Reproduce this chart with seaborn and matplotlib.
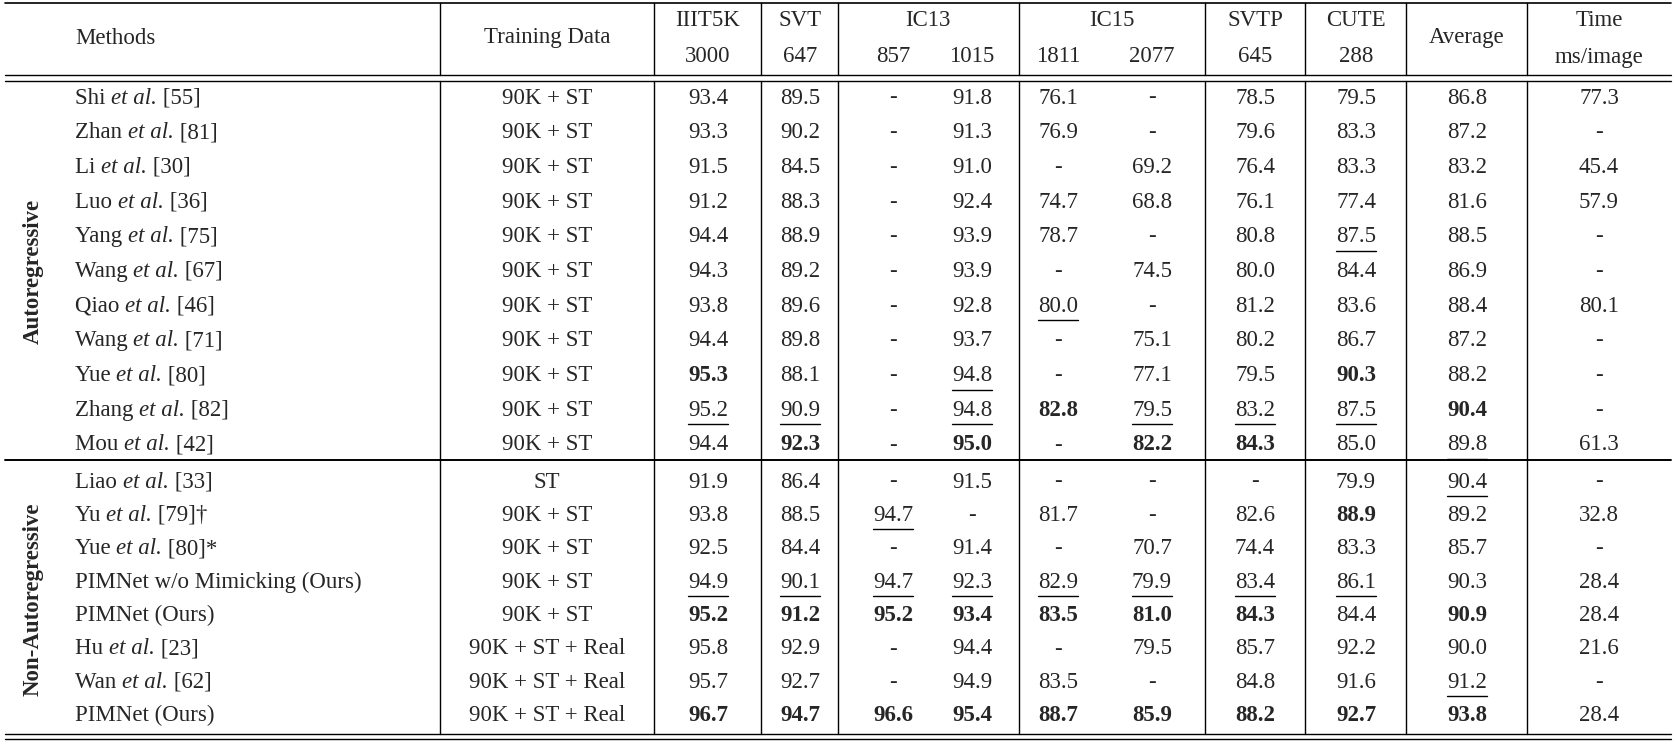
import matplotlib
matplotlib.use("Agg")
import matplotlib.pyplot as plt
import seaborn as sns

sns.set_theme(style="white")
plt.rcParams['font.family'] = ['Liberation Serif', 'DejaVu Serif']

# table content; "**" = bold, "__" = underlined
methods = ["Shi |et al.| [55]", "Zhan |et al.| [81]", "Li |et al.| [30]", "Luo |et al.| [36]",
           "Yang |et al.| [75]", "Wang |et al.| [67]", "Qiao |et al.| [46]", "Wang |et al.| [71]",
           "Yue |et al.| [80]", "Zhang |et al.| [82]", "Mou |et al.| [42]",
           "Liao |et al.| [33]", "Yu |et al.| [79]†", "Yue |et al.| [80]*",
           "PIMNet w/o Mimicking (Ours)", "PIMNet (Ours)", "Hu |et al.| [23]", "Wan |et al.| [62]",
           "PIMNet (Ours)"]
train = ["90K + ST"] * 11 + ["ST"] + ["90K + ST"] * 4 + ["90K + ST + Real"] * 3
iiit5k = ["93.4", "93.3", "91.5", "91.2", "94.4", "94.3", "93.8", "94.4", "**95.3", "__95.2", "94.4",
          "91.9", "93.8", "92.5", "__94.9", "**95.2", "95.8", "95.7", "**96.7"]
svt = ["89.5", "90.2", "84.5", "88.3", "88.9", "89.2", "89.6", "89.8", "88.1", "__90.9", "**92.3",
       "86.4", "88.5", "84.4", "__90.1", "**91.2", "92.9", "92.7", "**94.7"]
ic13_857 = ["-"] * 11 + ["-", "__94.7", "-", "__94.7", "**95.2", "-", "-", "**96.6"]
ic13_1015 = ["91.8", "91.3", "91.0", "92.4", "93.9", "93.9", "92.8", "93.7", "__94.8", "__94.8", "**95.0",
             "91.5", "-", "91.4", "__92.3", "**93.4", "94.4", "94.9", "**95.4"]
ic15_1811 = ["76.1", "76.9", "-", "74.7", "78.7", "-", "__80.0", "-", "-", "**82.8", "-",
             "-", "81.7", "-", "__82.9", "**83.5", "-", "83.5", "**88.7"]
ic15_2077 = ["-", "-", "69.2", "68.8", "-", "74.5", "-", "75.1", "77.1", "__79.5", "**82.2",
             "-", "-", "70.7", "__79.9", "**81.0", "79.5", "-", "**85.9"]
svtp = ["78.5", "79.6", "76.4", "76.1", "80.8", "80.0", "81.2", "80.2", "79.5", "__83.2", "**84.3",
        "-", "82.6", "74.4", "__83.4", "**84.3", "85.7", "84.8", "**88.2"]
cute = ["79.5", "83.3", "83.3", "77.4", "__87.5", "84.4", "83.6", "86.7", "**90.3", "__87.5", "85.0",
        "79.9", "**88.9", "83.3", "__86.1", "84.4", "92.2", "91.6", "**92.7"]
average = ["86.8", "87.2", "83.2", "81.6", "88.5", "86.9", "88.4", "87.2", "88.2", "**90.4", "__89.8",
           "__90.4", "89.2", "85.7", "90.3", "**90.9", "90.0", "__91.2", "**93.8"]
time_ms = ["77.3", "-", "45.4", "57.9", "-", "-", "80.1", "-", "-", "-", "61.3",
           "-", "32.8", "-", "28.4", "28.4", "21.6", "-", "28.4"]

value_cols = [iiit5k, svt, ic13_857, ic13_1015, ic15_1811, ic15_2077, svtp, cute, average, time_ms]
col_x = [708, 800, 893, 972, 1058, 1152, 1255, 1356, 1467, 1599]
vlines = [440, 654, 761, 838, 1019, 1205, 1305, 1406, 1527]
row_y = [98 + 34.7 * i for i in range(11)] + [482 + 33.4 * i for i in range(8)]

W, H = 1676, 745
fig = plt.figure(figsize=(W / 100, H / 100), dpi=100)
ax = fig.add_axes([0, 0, 1, 1])
ax.set_xlim(0, W)
ax.set_ylim(H, 0)
ax.axis("off")
fs = 16.5

# horizontal rules
L, R = 5, 1671
for y, lw in [(3, 1.2), (75, 1.0), (81, 1.0), (460, 1.4), (734, 1.0), (739, 1.0)]:
    ax.plot([L, R], [y, y], color="black", lw=lw)
for x in vlines:
    ax.plot([x, x], [3, 75], color="black", lw=1.0)
    ax.plot([x, x], [81, 734], color="black", lw=1.0)

# header
ax.text(75, 38, "Methods", fontsize=fs, va="center", ha="left")
ax.text(547, 38, "Training Data", fontsize=fs, va="center", ha="center")
ax.text(1467, 38, "Average", fontsize=fs, va="center", ha="center")
for x, t1, t2 in [(708, "IIIT5K", "3000"), (800, "SVT", "647"), (1255, "SVTP", "645"),
                  (1356, "CUTE", "288"), (1599, "Time", "ms/image")]:
    ax.text(x, 20, t1, fontsize=fs, va="center", ha="center")
    ax.text(x, 57, t2, fontsize=fs, va="center", ha="center")
ax.text(928, 20, "IC13", fontsize=fs, va="center", ha="center")
ax.text(1112, 20, "IC15", fontsize=fs, va="center", ha="center")
for x, t in [(893, "857"), (972, "1015"), (1058, "1811"), (1152, "2077")]:
    ax.text(x, 57, t, fontsize=fs, va="center", ha="center")

# group labels
ax.text(33, 271, "Autoregressive", fontsize=fs, fontweight="bold", rotation=90, va="center", ha="center")
ax.text(33, 599, "Non-Autoregressive", fontsize=fs, fontweight="bold", rotation=90, va="center", ha="center")

fig.canvas.draw()
rend = fig.canvas.get_renderer()
inv = ax.transData.inverted()


def width_of(t):
    bb = t.get_window_extent(rend)
    (x0, _), (x1, _) = inv.transform([[bb.x0, bb.y0], [bb.x1, bb.y1]])
    return x0, x1


for i, y in enumerate(row_y):
    # method names with italic "et al."
    x = 75
    for k, part in enumerate(methods[i].split("|")):
        if not part:
            continue
        t = ax.text(x, y, part, fontsize=fs, va="center", ha="left",
                    style="italic" if k == 1 else "normal")
        x = width_of(t)[1]
    ax.text(547, y, train[i], fontsize=fs, va="center", ha="center")
    for cx, col in zip(col_x, value_cols):
        s = col[i]
        bold = s.startswith("**")
        under = s.startswith("__")
        s = s.lstrip("*_")
        t = ax.text(cx, y, s, fontsize=fs, va="center", ha="center",
                    fontweight="bold" if bold else "normal")
        if under:
            x0, x1 = width_of(t)
            ax.plot([x0, x1], [y + 14, y + 14], color="black", lw=1.0)

fig.savefig("out.png", dpi=100)
